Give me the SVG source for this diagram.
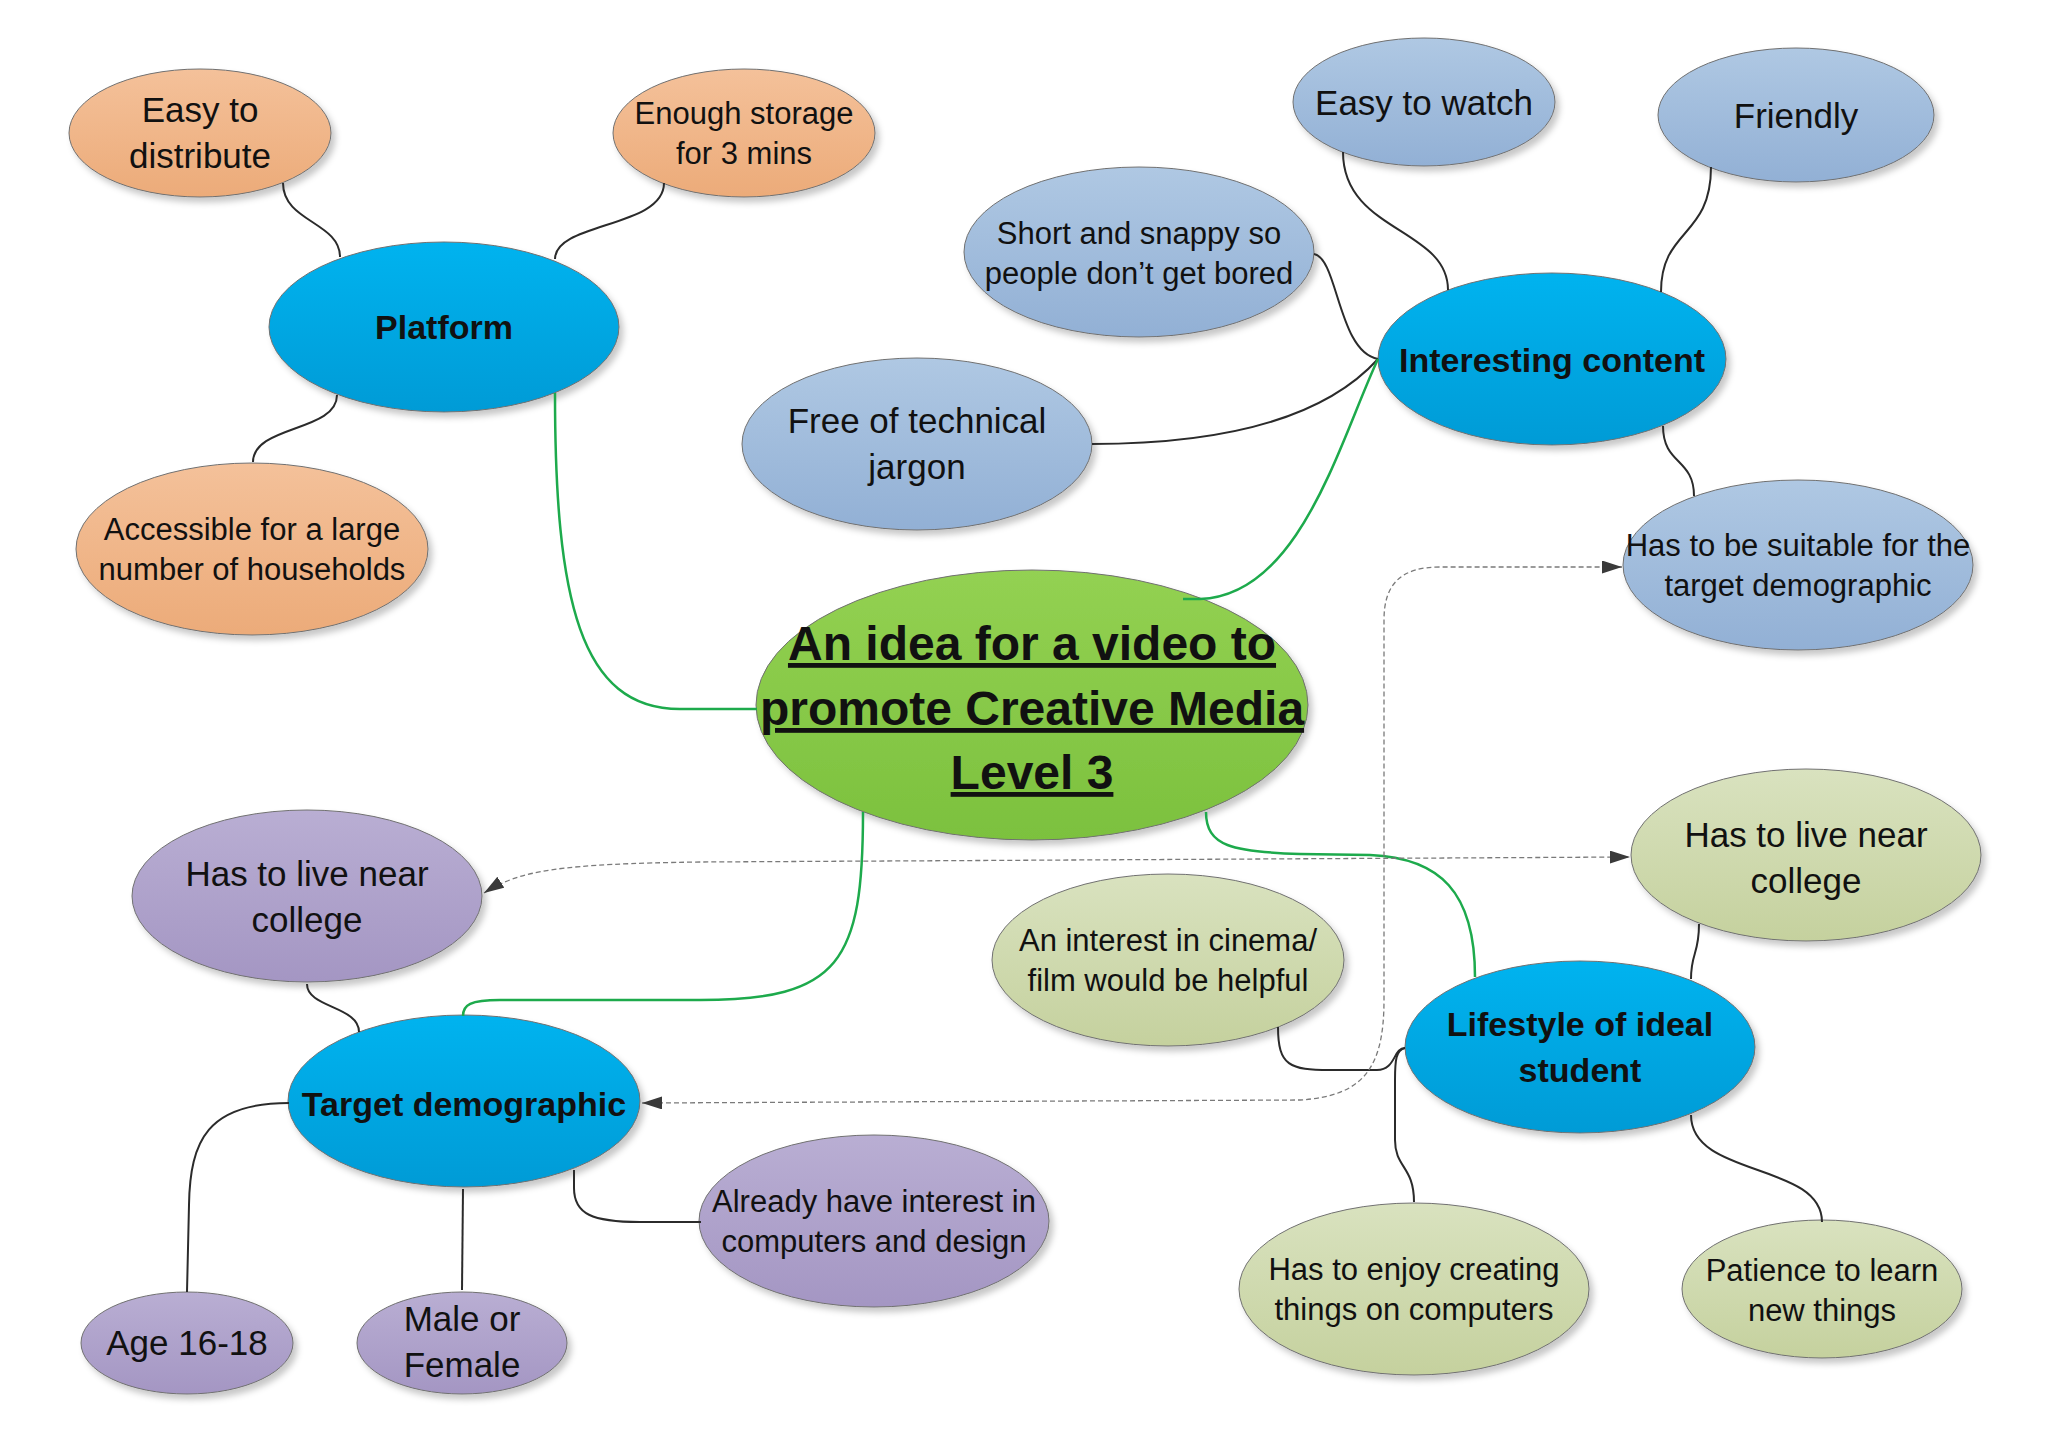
<svg xmlns="http://www.w3.org/2000/svg" width="2048" height="1448" viewBox="0 0 2048 1448">
<defs>
<linearGradient id="gBlue" x1="0" y1="0" x2="0" y2="1"><stop offset="0" stop-color="#00B3EF"/><stop offset="1" stop-color="#009BD6"/></linearGradient>
<linearGradient id="gOrange" x1="0" y1="0" x2="0" y2="1"><stop offset="0" stop-color="#F4C19A"/><stop offset="1" stop-color="#ECAB79"/></linearGradient>
<linearGradient id="gLBlue" x1="0" y1="0" x2="0" y2="1"><stop offset="0" stop-color="#AFC8E3"/><stop offset="1" stop-color="#92B0D5"/></linearGradient>
<linearGradient id="gPurple" x1="0" y1="0" x2="0" y2="1"><stop offset="0" stop-color="#B9AED3"/><stop offset="1" stop-color="#A496C3"/></linearGradient>
<linearGradient id="gOlive" x1="0" y1="0" x2="0" y2="1"><stop offset="0" stop-color="#D9E2BF"/><stop offset="1" stop-color="#C5D19E"/></linearGradient>
<linearGradient id="gGreen" x1="0" y1="0" x2="0" y2="1"><stop offset="0" stop-color="#93D152"/><stop offset="1" stop-color="#7CC13E"/></linearGradient>
<filter id="sh" x="-10%" y="-10%" width="125%" height="130%"><feDropShadow dx="4" dy="5" stdDeviation="3" flood-color="#000" flood-opacity="0.22"/></filter>
<marker id="arr" viewBox="0 0 20 13" refX="20" refY="6.5" markerWidth="20" markerHeight="13" markerUnits="userSpaceOnUse" orient="auto-start-reverse"><path d="M0,0 L20,6.5 L0,13 z" fill="#3a3a3a"/></marker>
<style>
.n{stroke:#707070;stroke-width:1;filter:url(#sh)}
.t{font-family:"Liberation Sans",Arial,sans-serif;fill:#111;text-anchor:middle}
.L{font-size:35px}
.S{font-size:31px}
.B{font-size:34px;font-weight:bold}
.C{font-size:48px;font-weight:bold;text-decoration:underline}
.k{fill:none;stroke:#2b2b2b;stroke-width:2}
.g{fill:none;stroke:#1DAA4C;stroke-width:2.5}
.d{fill:none;stroke:#7a7a7a;stroke-width:1.3;stroke-dasharray:5 3}
</style>
</defs>
<rect width="2048" height="1448" fill="#fff"/>
<g id="n-easy-distribute"><ellipse class="n" cx="200" cy="133" rx="131" ry="64" fill="url(#gOrange)"/><text class="t L" x="200" y="122">Easy to</text><text class="t L" x="200" y="168">distribute</text></g>
<g id="n-storage"><ellipse class="n" cx="744" cy="133" rx="131" ry="64" fill="url(#gOrange)"/><text class="t S" x="744" y="124">Enough storage</text><text class="t S" x="744" y="164">for 3 mins</text></g>
<g id="n-platform"><ellipse class="n" cx="444" cy="327" rx="175" ry="85" fill="url(#gBlue)"/><text class="t B" x="444" y="339">Platform</text></g>
<g id="n-accessible"><ellipse class="n" cx="252" cy="549" rx="176" ry="86" fill="url(#gOrange)"/><text class="t S" x="252" y="540">Accessible for a large</text><text class="t S" x="252" y="580">number of households</text></g>
<g id="n-easy-watch"><ellipse class="n" cx="1424" cy="102" rx="131" ry="64" fill="url(#gLBlue)"/><text class="t L" x="1424" y="115">Easy to watch</text></g>
<g id="n-friendly"><ellipse class="n" cx="1796" cy="115" rx="138" ry="67" fill="url(#gLBlue)"/><text class="t L" x="1796" y="128">Friendly</text></g>
<g id="n-short"><ellipse class="n" cx="1139" cy="252" rx="175" ry="85" fill="url(#gLBlue)"/><text class="t S" x="1139" y="244">Short and snappy so</text><text class="t S" x="1139" y="284">people don’t get bored</text></g>
<g id="n-interesting"><ellipse class="n" cx="1552" cy="359" rx="174" ry="86" fill="url(#gBlue)"/><text class="t B" x="1552" y="372">Interesting content</text></g>
<g id="n-jargon"><ellipse class="n" cx="917" cy="444" rx="175" ry="86" fill="url(#gLBlue)"/><text class="t L" x="917" y="433">Free of technical</text><text class="t L" x="917" y="479">jargon</text></g>
<g id="n-suitable"><ellipse class="n" cx="1798" cy="565" rx="175" ry="85" fill="url(#gLBlue)"/><text class="t S" x="1798" y="556">Has to be suitable for the</text><text class="t S" x="1798" y="596">target demographic</text></g>
<g id="n-central"><ellipse class="n" cx="1032" cy="705" rx="276" ry="135" fill="url(#gGreen)"/><text class="t C" x="1032" y="660">An idea for a video to</text><text class="t C" x="1032" y="725">promote Creative Media</text><text class="t C" x="1032" y="789">Level 3</text></g>
<g id="n-live-purple"><ellipse class="n" cx="307" cy="896" rx="175" ry="86" fill="url(#gPurple)"/><text class="t L" x="307" y="886">Has to live near</text><text class="t L" x="307" y="932">college</text></g>
<g id="n-live-olive"><ellipse class="n" cx="1806" cy="855" rx="175" ry="86" fill="url(#gOlive)"/><text class="t L" x="1806" y="847">Has to live near</text><text class="t L" x="1806" y="893">college</text></g>
<g id="n-cinema"><ellipse class="n" cx="1168" cy="960" rx="176" ry="86" fill="url(#gOlive)"/><text class="t S" x="1168" y="951">An interest in cinema/</text><text class="t S" x="1168" y="991">film would be helpful</text></g>
<g id="n-lifestyle"><ellipse class="n" cx="1580" cy="1047" rx="175" ry="86" fill="url(#gBlue)"/><text class="t B" x="1580" y="1036">Lifestyle of ideal</text><text class="t B" x="1580" y="1082">student</text></g>
<g id="n-target"><ellipse class="n" cx="464" cy="1101" rx="176" ry="86" fill="url(#gBlue)"/><text class="t B" x="464" y="1116">Target demographic</text></g>
<g id="n-already"><ellipse class="n" cx="874" cy="1221" rx="175" ry="86" fill="url(#gPurple)"/><text class="t S" x="874" y="1212">Already have interest in</text><text class="t S" x="874" y="1252">computers and design</text></g>
<g id="n-age"><ellipse class="n" cx="187" cy="1343" rx="106" ry="51" fill="url(#gPurple)"/><text class="t L" x="187" y="1355">Age 16-18</text></g>
<g id="n-gender"><ellipse class="n" cx="462" cy="1343" rx="105" ry="51" fill="url(#gPurple)"/><text class="t L" x="462" y="1331">Male or</text><text class="t L" x="462" y="1377">Female</text></g>
<g id="n-enjoy"><ellipse class="n" cx="1414" cy="1289" rx="175" ry="86" fill="url(#gOlive)"/><text class="t S" x="1414" y="1280">Has to enjoy creating</text><text class="t S" x="1414" y="1320">things on computers</text></g>
<g id="n-patience"><ellipse class="n" cx="1822" cy="1289" rx="140" ry="69" fill="url(#gOlive)"/><text class="t S" x="1822" y="1281">Patience to learn</text><text class="t S" x="1822" y="1321">new things</text></g>
<g id="connectors">
<path class="k" d="M283,183 C283,222 340,222 340,257"/>
<path class="k" d="M664,183 C664,228 555,222 555,259"/>
<path class="k" d="M337,395 C337,432 253,425 253,462"/>
<path class="k" d="M1343,152 C1343,232 1448,228 1448,290"/>
<path class="k" d="M1711,167 C1711,238 1661,228 1661,292"/>
<path class="k" d="M1314,254 C1338,258 1338,352 1378,359"/>
<path class="k" d="M1092,444 C1240,444 1330,412 1378,359"/>
<path class="k" d="M1663,426 C1663,465 1694,458 1694,496"/>
<path class="k" d="M307,984 C307,1008 359,1006 359,1032"/>
<path class="k" d="M289,1103 C208,1103 190,1140 189,1205 L187,1292"/>
<path class="k" d="M463,1189 L462,1290"/>
<path class="k" d="M574,1170 L574,1188 C574,1214 592,1222 640,1222 L701,1222"/>
<path class="k" d="M1278,1027 C1278,1066 1290,1070 1330,1070 L1377,1070 C1396,1070 1393,1048 1405,1048"/>
<path class="k" d="M1405,1048 C1396,1050 1395,1060 1395,1080 L1395,1140 C1395,1168 1414,1166 1414,1202"/>
<path class="k" d="M1691,979 C1691,952 1699,955 1699,924"/>
<path class="k" d="M1691,1115 C1691,1178 1822,1162 1822,1222"/>
<path class="g" d="M555,393 C555,600 580,709 680,709 L757,709"/>
<path class="g" d="M1183,599 L1200,599 C1300,596 1340,440 1378,359"/>
<path class="g" d="M863,812 C863,962 840,1000 700,1000 L500,1000 C470,1000 463,1005 463,1016"/>
<path class="g" d="M1206,812 C1206,846 1232,852 1300,854 L1370,855 C1440,858 1475,892 1475,977"/>
<path class="d" marker-start="url(#arr)" marker-end="url(#arr)" d="M642,1103 L1300,1100 C1362,1096 1384,1070 1384,1000 L1384,620 C1384,585 1400,567 1440,567 L1622,567"/>
<path class="d" marker-start="url(#arr)" marker-end="url(#arr)" d="M484,893 C520,870 560,864 700,862 L1630,857"/>
</g>
</svg>
